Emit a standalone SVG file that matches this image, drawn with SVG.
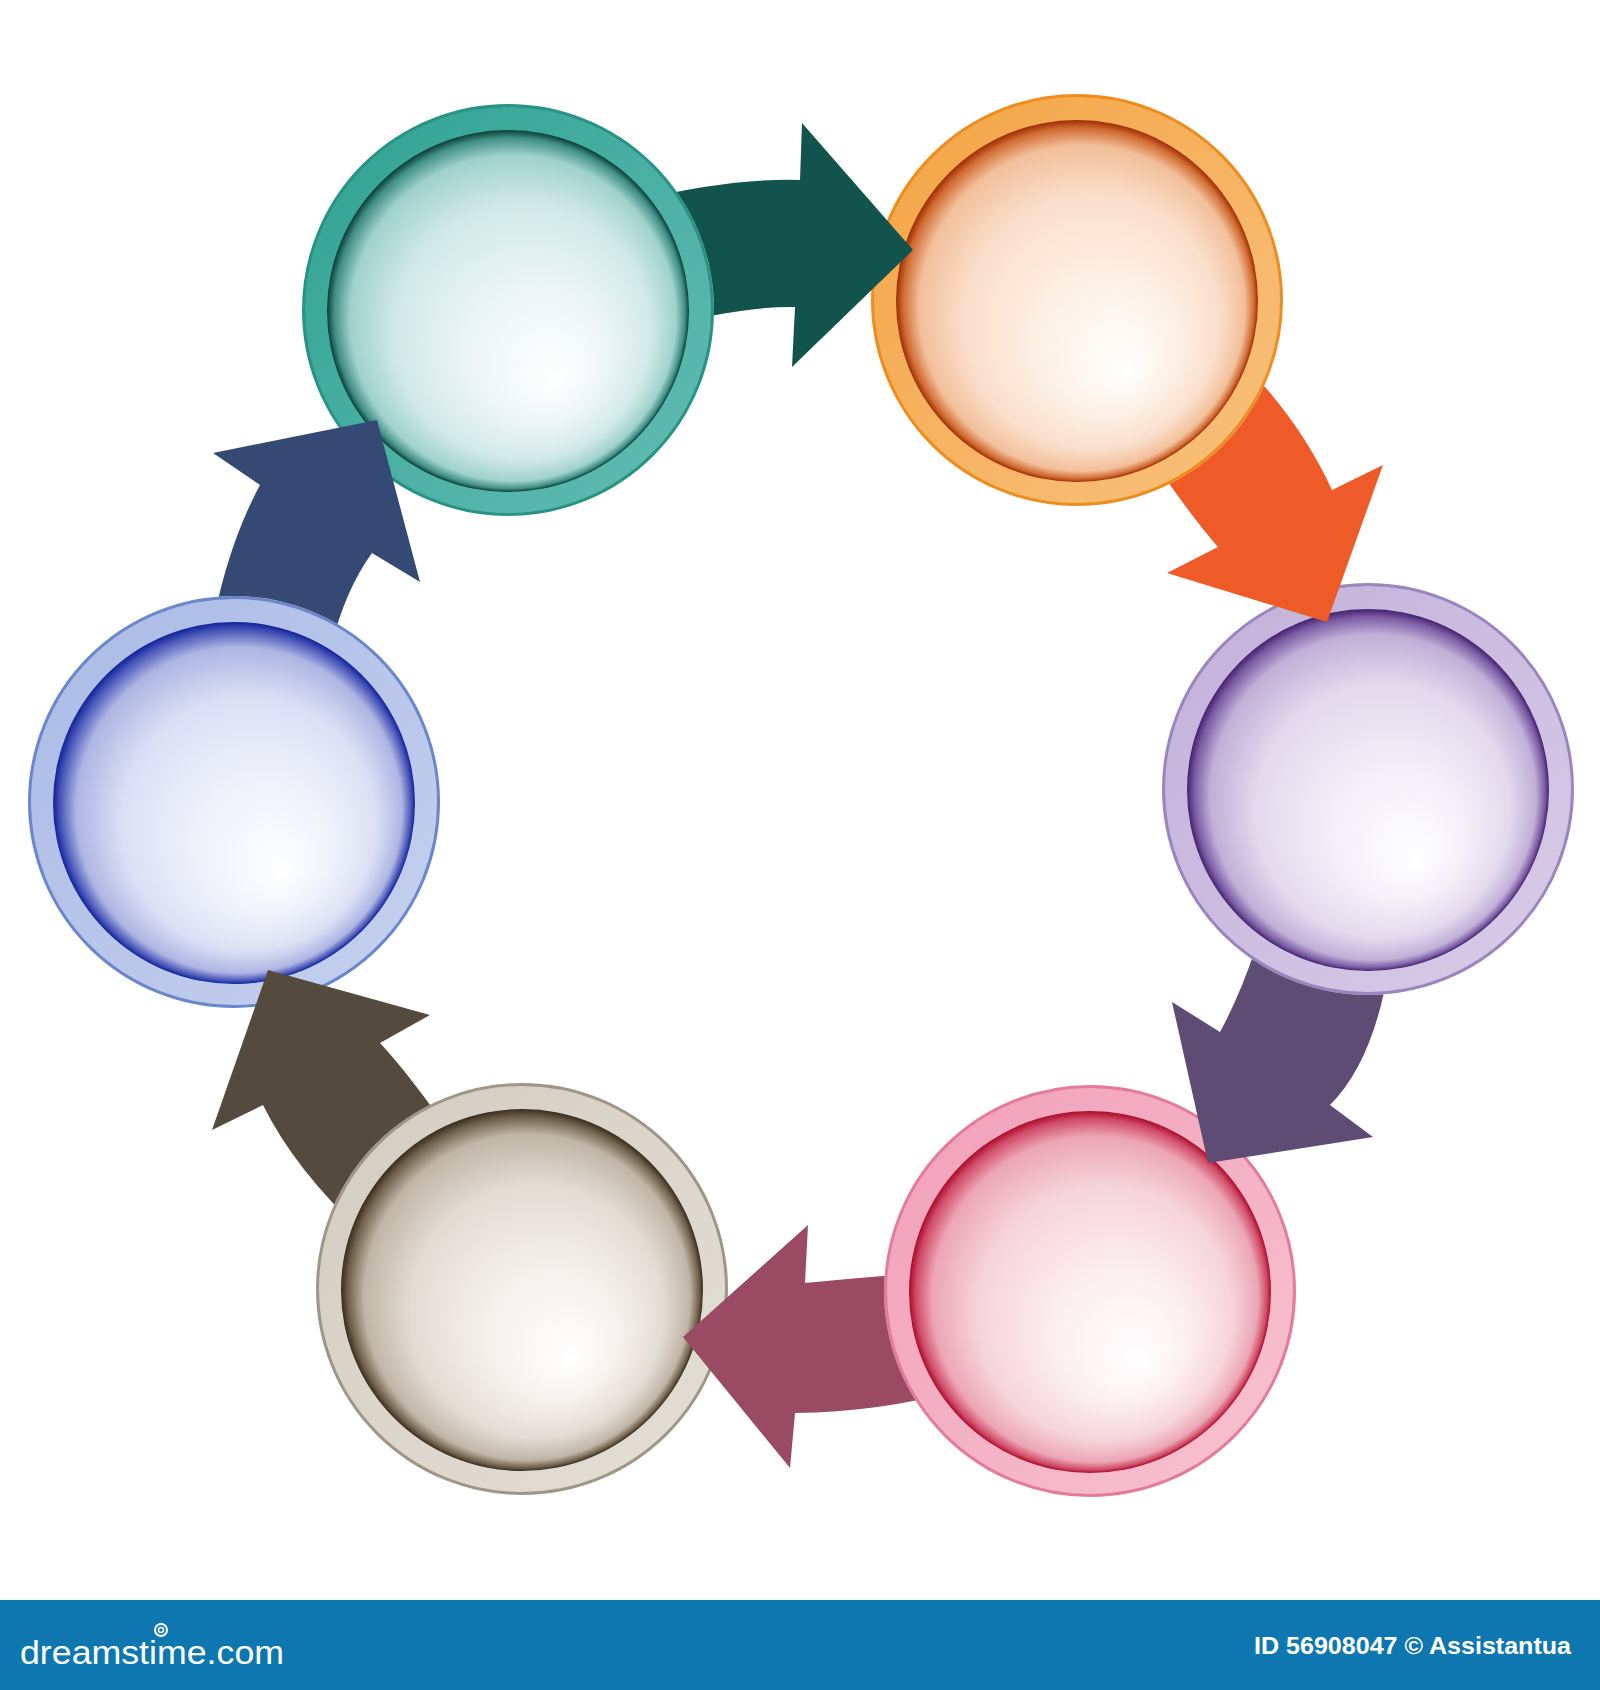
<svg xmlns="http://www.w3.org/2000/svg" width="1600" height="1690" viewBox="0 0 1600 1690">
<style>
.ring{stroke-width:3}
.foot{fill:#ffffff;font-family:"Liberation Sans",Arial,sans-serif}
</style>
<defs>
<linearGradient id="rTeal" x1="0" y1="0" x2="1" y2="1"><stop offset="0" stop-color="#2fa292"/><stop offset="1" stop-color="#63bdb3"/></linearGradient>
<linearGradient id="rOrange" x1="0" y1="0" x2="1" y2="1"><stop offset="0" stop-color="#f4a443"/><stop offset="1" stop-color="#f8c27e"/></linearGradient>
<linearGradient id="rPurple" x1="0" y1="0" x2="1" y2="1"><stop offset="0" stop-color="#c2afd9"/><stop offset="1" stop-color="#d8cde7"/></linearGradient>
<linearGradient id="rPink" x1="0" y1="0" x2="1" y2="1"><stop offset="0" stop-color="#f19fb8"/><stop offset="1" stop-color="#f7c3d1"/></linearGradient>
<linearGradient id="rBeige" x1="0" y1="0" x2="1" y2="1"><stop offset="0" stop-color="#d3cdc0"/><stop offset="1" stop-color="#e4dfd6"/></linearGradient>
<linearGradient id="rBlue" x1="0" y1="0" x2="1" y2="1"><stop offset="0" stop-color="#aabae5"/><stop offset="1" stop-color="#c6d1ef"/></linearGradient>
<radialGradient id="bTeal" cx="0.5" cy="0.5" r="0.5" fx="0.64" fy="0.7"><stop offset="0" stop-color="#ffffff"/><stop offset="0.35" stop-color="#eef7f6"/><stop offset="0.7" stop-color="#d2eae7"/><stop offset="0.9" stop-color="#9fd2cb"/><stop offset="0.97" stop-color="#3f8e85"/><stop offset="1" stop-color="#0c3d37"/></radialGradient>
<radialGradient id="bOrange" cx="0.5" cy="0.5" r="0.5" fx="0.64" fy="0.7"><stop offset="0" stop-color="#ffffff"/><stop offset="0.35" stop-color="#fdf2e8"/><stop offset="0.7" stop-color="#fadfca"/><stop offset="0.9" stop-color="#f2bf9a"/><stop offset="0.97" stop-color="#d06a30"/><stop offset="1" stop-color="#9e2c06"/></radialGradient>
<radialGradient id="bPurple" cx="0.5" cy="0.5" r="0.5" fx="0.64" fy="0.7"><stop offset="0" stop-color="#ffffff"/><stop offset="0.35" stop-color="#f4f1f8"/><stop offset="0.7" stop-color="#e2daed"/><stop offset="0.9" stop-color="#c0afd7"/><stop offset="0.97" stop-color="#7a5aa2"/><stop offset="1" stop-color="#42226f"/></radialGradient>
<radialGradient id="bPink" cx="0.5" cy="0.5" r="0.5" fx="0.64" fy="0.7"><stop offset="0" stop-color="#ffffff"/><stop offset="0.35" stop-color="#fcf0f2"/><stop offset="0.7" stop-color="#f6d4dc"/><stop offset="0.9" stop-color="#eca5b5"/><stop offset="0.97" stop-color="#d04a66"/><stop offset="1" stop-color="#aa0b2a"/></radialGradient>
<radialGradient id="bBeige" cx="0.5" cy="0.5" r="0.5" fx="0.64" fy="0.7"><stop offset="0" stop-color="#ffffff"/><stop offset="0.35" stop-color="#f5f2ef"/><stop offset="0.7" stop-color="#e2dcd4"/><stop offset="0.9" stop-color="#c0b5a6"/><stop offset="0.97" stop-color="#6e604c"/><stop offset="1" stop-color="#382c1c"/></radialGradient>
<radialGradient id="bBlue" cx="0.5" cy="0.5" r="0.5" fx="0.64" fy="0.7"><stop offset="0" stop-color="#ffffff"/><stop offset="0.35" stop-color="#f1f3fb"/><stop offset="0.7" stop-color="#dce0f4"/><stop offset="0.9" stop-color="#adb5e3"/><stop offset="0.97" stop-color="#4755b8"/><stop offset="1" stop-color="#10229a"/></radialGradient>
<mask id="mTeal" maskUnits="userSpaceOnUse" x="0" y="0" width="1600" height="1690"><rect width="1600" height="1690" fill="#fff"/><circle cx="508" cy="310" r="206" fill="#000"/></mask>
<mask id="mOrange" maskUnits="userSpaceOnUse" x="0" y="0" width="1600" height="1690"><rect width="1600" height="1690" fill="#fff"/><circle cx="1077" cy="300" r="206" fill="#000"/></mask>
<mask id="mPurple" maskUnits="userSpaceOnUse" x="0" y="0" width="1600" height="1690"><rect width="1600" height="1690" fill="#fff"/><circle cx="1368" cy="789" r="206" fill="#000"/></mask>
<mask id="mPink" maskUnits="userSpaceOnUse" x="0" y="0" width="1600" height="1690"><rect width="1600" height="1690" fill="#fff"/><circle cx="1090" cy="1291" r="206" fill="#000"/></mask>
<mask id="mBeige" maskUnits="userSpaceOnUse" x="0" y="0" width="1600" height="1690"><rect width="1600" height="1690" fill="#fff"/><circle cx="522" cy="1289" r="206" fill="#000"/></mask>
<mask id="mBlue" maskUnits="userSpaceOnUse" x="0" y="0" width="1600" height="1690"><rect width="1600" height="1690" fill="#fff"/><circle cx="234" cy="802" r="206" fill="#000"/></mask>
</defs>
<rect width="1600" height="1690" fill="#ffffff"/>

<g id="node-teal">
<circle class="ring" cx="508" cy="310" r="204.5" fill="url(#rTeal)" stroke="#289384"/>
<circle cx="508" cy="311" r="181" fill="url(#bTeal)"/>
</g>
<g id="node-orange">
<circle class="ring" cx="1077" cy="300" r="204.5" fill="url(#rOrange)" stroke="#ee8d1f"/>
<circle cx="1077" cy="301" r="181" fill="url(#bOrange)"/>
</g>
<g id="node-purple">
<circle class="ring" cx="1368" cy="789" r="204.5" fill="url(#rPurple)" stroke="#9b85bf"/>
<circle cx="1368" cy="790" r="181" fill="url(#bPurple)"/>
</g>
<g id="node-pink">
<circle class="ring" cx="1090" cy="1291" r="204.5" fill="url(#rPink)" stroke="#e57b9b"/>
<circle cx="1090" cy="1292" r="181" fill="url(#bPink)"/>
</g>
<g id="node-beige">
<circle class="ring" cx="522" cy="1289" r="204.5" fill="url(#rBeige)" stroke="#9e9787"/>
<circle cx="522" cy="1290" r="181" fill="url(#bBeige)"/>
</g>
<g id="node-blue">
<circle class="ring" cx="234" cy="802" r="204.5" fill="url(#rBlue)" stroke="#6c86cb"/>
<circle cx="234" cy="803" r="181" fill="url(#bBlue)"/>
</g>

<g id="connectors">
<path mask="url(#mTeal)" fill="#12544d" d="M 640 200 Q 730 178 800 180 L 802 123 L 913 250 L 792 367 L 795 307 Q 740 306 650 330 Z"/>
<path mask="url(#mOrange)" fill="#ef5a29" d="M 1240 360 Q 1300 420 1332 490 L 1383 465 L 1327 622 L 1167 573 L 1218 547 Q 1190 515 1150 456 Z"/>
<path mask="url(#mPurple)" fill="#5f4c74" d="M 1255 950 L 1390 960 Q 1375 1060 1330 1105 L 1373 1137 L 1208 1163 L 1172 1002 L 1220 1032 Q 1240 995 1255 950 Z"/>
<path mask="url(#mPink)" fill="#9b4a63" d="M 960 1270 Q 900 1274 805 1283 L 808 1225 L 683 1337 L 790 1468 L 795 1413 Q 880 1412 960 1390 Z"/>
<path mask="url(#mBeige)" fill="#544a3d" d="M 455 1140 Q 410 1075 380 1043 L 430 1015 L 268 970 L 212 1130 L 263 1105 Q 295 1170 365 1235 Z"/>
<path mask="url(#mBlue)" fill="#344a74" d="M 210 640 Q 225 550 260 485 L 213 453 L 377 420 L 420 582 L 372 553 Q 345 590 330 650 Z"/>
</g>

<g id="footer">
<rect x="0" y="1600" width="1600" height="90" fill="#0f77b0"/>
<circle cx="161" cy="1630" r="6" fill="none" stroke="#ffffff" stroke-width="2"/>
<circle cx="161" cy="1630" r="2.5" fill="none" stroke="#ffffff" stroke-width="1.5"/>
<text class="foot" x="20" y="1664" font-size="33" textLength="264" lengthAdjust="spacingAndGlyphs">dreamstime.com</text>
<text class="foot" x="1254" y="1654" font-size="24" font-weight="bold" textLength="317" lengthAdjust="spacingAndGlyphs">ID 56908047 © Assistantua</text>
</g>
</svg>
